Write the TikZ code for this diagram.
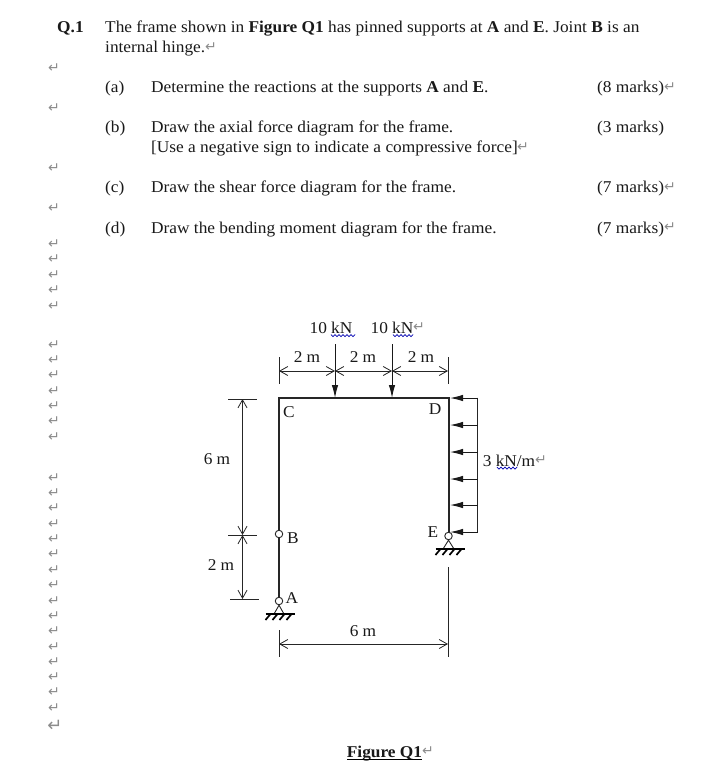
\documentclass[tikz,border=0pt]{standalone}
\usepackage{fontspec}
\setmainfont[FakeStretch=1.05]{Liberation Serif}
\newfontfamily\markfont{DejaVu Sans}
\usetikzlibrary{arrows.meta}
\tikzset{
 x=1pt,y=-1pt,
 txt/.style={anchor=base west,inner sep=0pt,font=\fontsize{16.5}{18}\selectfont,text=black!90},
 lbl/.style={anchor=base,inner sep=0pt,font=\fontsize{16.5}{18}\selectfont,text=black!90},
 ret/.style={anchor=center,inner sep=0pt,font=\markfont\fontsize{14}{14}\selectfont,text=black!45},
 member/.style={line width=2.2pt,black!85},
 dim/.style={line width=0.8pt,black!85},
 dimarrow/.style={dim,{Straight Barb[length=8pt,width=9pt]}-{Straight Barb[length=8pt,width=9pt]}},
 load/.style={line width=1pt,black!90,-{Latex[length=13pt,width=6.5pt]}},
 loadedge/.style={line width=1.8pt,black!50,-{Latex[length=8pt,width=4pt]}},
 hinge/.style={circle,draw=black!85,fill=white,line width=0.9pt,minimum size=7.5pt,inner sep=0pt},
 squig/.style={blue!70!black,line width=0.7pt}
}
\newcommand{\squigline}[3]{\draw[squig] (#1,#2) \foreach \k in {1,...,#3}{ -- ++(2,2.2) -- ++(2,-2.2)};}
\newcommand{\groundhatch}[2]{
 \draw[line width=2.4pt,black] (#1-14,#2) -- (#1+15,#2);
 \foreach \d in {-9,-2,5,12}{\draw[line width=1.7pt,black] (#1+\d,#2) -- ++(-5,6);}
}
\begin{document}
\begin{tikzpicture}
\useasboundingbox (0,0) rectangle (709,778);
\fill[white] (0,0) rectangle (709,778);
% text
\node[txt,font=\fontsize{16.5}{18}\selectfont\bfseries] (q) at (57,33) {Q.1};
\node[txt] (l1) at (105,33) {The frame shown in \textbf{Figure Q1} has pinned supports at \textbf{A} and \textbf{E}. Joint \textbf{B} is an};
\node[txt] (l2) at (105,53) {internal hinge.};
\node[ret] (r2) at (211,47) {↵};
\node[txt] (pa) at (105,93) {(a)};
\node[txt] (ta) at (151,93) {Determine the reactions at the supports \textbf{A} and \textbf{E}.};
\node[txt] (ma) at (597,93) {(8 marks)};
\node[ret] (rma) at (670,87) {↵};
\node[txt] (pb) at (105,133) {(b)};
\node[txt] (tb) at (151,133) {Draw the axial force diagram for the frame.};
\node[txt] (mb) at (597,133) {(3 marks)};
\node[txt] (tb2) at (151,153) {[Use a negative sign to indicate a compressive force]};
\node[ret] (rb) at (523,147) {↵};
\node[txt] (pc) at (105,193) {(c)};
\node[txt] (tc) at (151,193) {Draw the shear force diagram for the frame.};
\node[txt] (mc) at (597,193) {(7 marks)};
\node[ret] (rmc) at (670,187) {↵};
\node[txt] (pd) at (105,233) {(d)};
\node[txt] (td) at (151,233) {Draw the bending moment diagram for the frame.};
\node[txt] (md) at (597,233) {(7 marks)};
\node[ret] (rmd) at (670,227) {↵};
% left margin marks
\foreach \y in {68,108,168,208,244,259,275,290,306,345,360,375,391,406,421,437,478,493,508,524,539,554,570,585,601,616,631,647,662,677,692,708}{
 \node[ret] at (54,\y) {↵};
}
\node[ret,font=\markfont\fontsize{18}{18}\selectfont] at (55,726) {↵};
% figure labels
\node[lbl] (f1) at (331,333) {10 kN};
\node[lbl] (f2) at (392,333) {10 kN};
\node[ret] at (419,327) {↵};
\squigline{331}{334.5}{6}
\squigline{393}{334.5}{5}
\node[lbl] (d1) at (307,362) {2 m};
\node[lbl] (d2) at (363,362) {2 m};
\node[lbl] (d3) at (421,362) {2 m};
\node[lbl] (lc) at (289,417) {C};
\node[lbl] (ld) at (435,414) {D};
\node[lbl] (lb) at (293,543) {B};
\node[lbl] (la) at (292,603) {A};
\node[lbl] (le) at (433,537) {E};
\node[lbl] (l6) at (217,464) {6 m};
\node[lbl] (l2m) at (221,570) {2 m};
\node[lbl] (l6b) at (363,636) {6 m};
\node[lbl] (lw) at (509,466) {3 kN/m};
\node[ret] at (541,460) {↵};
\squigline{497}{467}{5}
% title
\node[lbl,font=\fontsize{16.5}{18}\selectfont\bfseries] (fig) at (384.5,757) {Figure Q1};
\draw[line width=1.6pt,black] (347,759.5) -- (422,759.5);
\node[ret] at (428,751) {↵};
% coordinates
\coordinate (A) at (279,601);
\coordinate (B) at (279,534);
\coordinate (C) at (279,398);
\coordinate (D) at (449,398);
\coordinate (E) at (449,536);
\coordinate (P1) at (335,398);
\coordinate (P2) at (392,398);
% frame
\draw[member] (A) -- (C) -- (D) -- (E);
\node[hinge] (hb) at (B) {};
\node[hinge] (ha) at (A) {};
\node[hinge] (he) at (448.5,536) {};
% supports
\coordinate (a1) at (274,614);
\coordinate (a2) at (284,614);
\coordinate (e1) at (443,549);
\coordinate (e2) at (454,549);
\draw[line width=0.9pt,black!85] (ha.south) -- (a1) (ha.south) -- (a2);
\draw[line width=0.9pt,black!85] (he.south) -- (e1) (he.south) -- (e2);
\groundhatch{279.5}{614}
\groundhatch{449.5}{549}
% point loads
\coordinate (T1) at (335,344);
\coordinate (T2) at (392,344);
\draw[load] (T1) -- (P1);
\draw[load] (T2) -- (P2);
% top dimension
\coordinate (tm0) at (279,371);
\coordinate (tm1) at (335,371);
\coordinate (tm2) at (392,371);
\coordinate (tm3) at (448,371);
\draw[dim] (279,357) -- (279,384) (448,357) -- (448,384);
\draw[dimarrow] (tm0) -- (tm1);
\draw[dimarrow] (tm1) -- (tm2);
\draw[dimarrow] (tm2) -- (tm3);
% left dimension
\coordinate (v0) at (242.5,399);
\coordinate (v1) at (242.5,535);
\coordinate (v2) at (242.5,599);
\draw[dim] (228,399) -- (257,399) (228,535) -- (257,535) (230,599) -- (259,599);
\draw[dimarrow] (v0) -- (v1);
\draw[dimarrow] (v1) -- (v2);
% bottom dimension
\coordinate (b0) at (279,644);
\coordinate (b1) at (448,644);
\draw[dim] (279,630) -- (279,657) (448,567) -- (448,657);
\draw[dimarrow] (b0) -- (b1);
% distributed load
\draw[line width=1pt,black!85] (477.5,397.5) -- (477.5,532.5);
\foreach \n/\y in {a/398,b/425,c/452,d/479,e/505,f/532}{
 \coordinate (u\n) at (477.5,\y);
 \coordinate (w\n) at (450,\y);
 \draw[load] (u\n) -- (w\n);
}
\end{tikzpicture}
\end{document}
